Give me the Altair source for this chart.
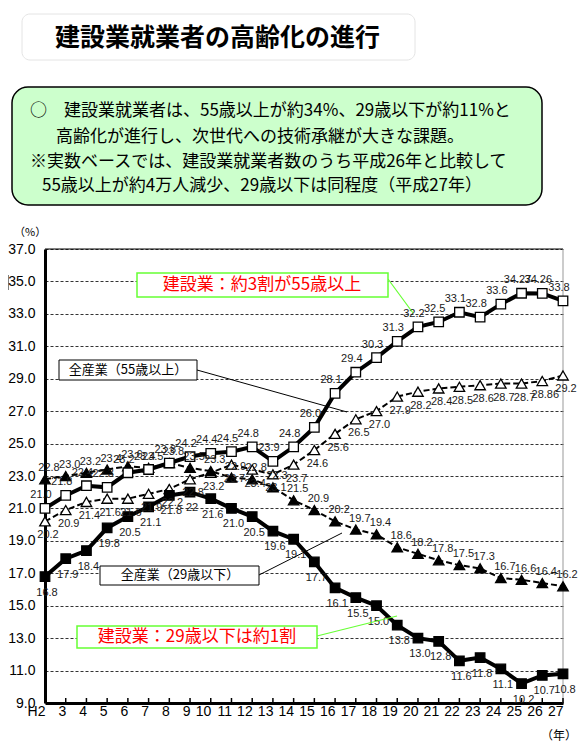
import altair as alt
import pandas as pd

# ---------------- data ----------------
years = ["H2", "3", "4", "5", "6", "7", "8", "9", "10", "11", "12", "13", "14",
         "15", "16", "17", "18", "19", "20", "21", "22", "23", "24", "25", "26", "27"]

# 建設業 55歳以上
c55 = [21.0, 21.8, 22.4, 22.3, 23.2, 23.4, 23.8, 24.2, 24.4, 24.5, 24.8, 23.9, 24.8,
       26.0, 28.1, 29.4, 30.3, 31.3, 32.2, 32.5, 33.1, 32.8, 33.6, 34.27, 34.26, 33.8]
# 全産業 55歳以上
a55 = [20.2, 20.9, 21.4, 21.6, 21.6, 21.9, 22.2, 22.8, 23.2, 23.7, 23.4, 23.1, 23.7,
       24.6, 25.6, 26.5, 27.0, 27.9, 28.2, 28.4, 28.5, 28.6, 28.7, 28.7, 28.86, 29.2]
# 全産業 29歳以下
a29 = [22.8, 23.0, 23.2, 23.4, 23.6, 23.5, 23.8, 23.5, 23.3, 22.9, 22.8, 22.3, 21.5,
       20.9, 20.2, 19.7, 19.4, 18.6, 18.2, 17.8, 17.5, 17.3, 16.7, 16.6, 16.4, 16.2]
# 建設業 29歳以下
c29 = [16.8, 17.9, 18.4, 19.8, 20.5, 21.1, 21.8, 22, 21.6, 21.0, 20.5, 19.6, 19.1,
       17.7, 16.1, 15.5, 15.0, 13.8, 13.0, 12.8, 11.6, 11.8, 11.1, 10.2, 10.7, 10.8]

y_ticks = [9, 11, 13, 15, 17, 19, 21, 23, 25, 27, 29, 31, 33, 35, 37]

title_text = "建設業就業者の高齢化の進行"
box_lines = [
    "○　建設業就業者は、55歳以上が約34%、29歳以下が約11%と",
    "高齢化が進行し、次世代への技術承継が大きな課題。",
    "※実数ベースでは、建設業就業者数のうち平成26年と比較して",
    "55歳以上が約4万人減少、29歳以下は同程度（平成27年）",
]

# ---------------- layout ----------------
W, H = 518, 454
PL, PT = 37, 241            # plot origin = page (45, 249)
JP = "Noto Sans CJK JP"
NUM = "Liberation Sans"


def px(x):
    return x - 45


def py(y):
    return y - 249


one = pd.DataFrame({"a": [0]})

X = alt.X("year:O", sort=years, scale=alt.Scale(type="point", padding=0),
          axis=alt.Axis(title=None, labelAngle=0, ticks=False, grid=False,
                        domainWidth=3, domainColor="black", labelFontSize=14,
                        labelPadding=8, labelColor="black", labelFont=NUM))
Y = alt.Y("value:Q", scale=alt.Scale(domain=[9, 37], nice=False, zero=False),
          axis=alt.Axis(title=None, values=y_ticks, format=".1f", ticks=False,
                        grid=True, gridDash=[3, 2], gridColor="#333333", gridWidth=1,
                        domainWidth=3, domainColor="black", labelFontSize=14,
                        labelPadding=10, labelColor="black", labelFont=NUM))


def frame(vals):
    return pd.DataFrame({"year": years, "value": vals,
                         "label": [str(v) for v in vals]})


def line_layer(vals, width, dashed):
    kw = dict(color="black", strokeWidth=width)
    if dashed:
        kw["strokeDash"] = [6, 3]
    return alt.Chart(frame(vals)).mark_line(**kw).encode(x=X, y=Y)


def point_layer(vals, shape, fill, size):
    return alt.Chart(frame(vals)).mark_point(
        shape=shape, size=size, filled=True, fill=fill, stroke="black",
        strokeWidth=1.3, opacity=1).encode(x=X, y=Y)


def label_layer(vals, dx, dy):
    return alt.Chart(frame(vals)).mark_text(
        dx=dx, dy=dy, fontSize=11, font=NUM, color="#1a1a1a").encode(
        x=X, y=Y, text="label:N")


def rect(x1, y1, x2, y2, fill, stroke, sw, radius=0):
    return alt.Chart(one).mark_rect(
        fill=fill, stroke=stroke, strokeWidth=sw, cornerRadius=radius).encode(
        x=alt.value(px(x1)), x2=alt.value(px(x2)),
        y=alt.value(py(y1)), y2=alt.value(py(y2)))


def text(s, x, y, size, color="black", weight="normal", align="left", font=JP):
    return alt.Chart(one).mark_text(
        text=s, align=align, baseline="middle", fontSize=size, font=font,
        fontWeight=weight, color=color).encode(
        x=alt.value(px(x)), y=alt.value(py(y)))


def seg(x1, y1, x2, y2, color, w=1):
    return alt.Chart(one).mark_rule(color=color, strokeWidth=w).encode(
        x=alt.value(px(x1)), y=alt.value(py(y1)),
        x2=alt.value(px(x2)), y2=alt.value(py(y2)))


# inward x ticks
ticks = alt.Chart(pd.DataFrame({"year": years})).mark_rule(
    color="black", strokeWidth=1.5).encode(
    x=alt.X("year:O", sort=years, scale=alt.Scale(type="point", padding=0)),
    y=alt.value(H), y2=alt.value(H - 5))

layers = [
    # frame top & right
    seg(45, 249, 563, 249, "black", 1),
    seg(563, 249, 563, 703, "#999999", 1),
    ticks,
    line_layer(a55, 2, True),
    line_layer(a29, 2, True),
    line_layer(c55, 4, False),
    line_layer(c29, 4, False),
    point_layer(a55, "triangle-up", "white", 110),
    point_layer(a29, "triangle-up", "black", 110),
    point_layer(c55, "square", "white", 90),
    point_layer(c29, "square", "black", 90),
    label_layer(c55, -4, -13),
    label_layer(a55, 3, 14),
    label_layer(a29, 4, -11),
    label_layer(c29, 2, 16),
    # leader lines
    seg(388, 279, 413, 313, "#66FF33", 1.2),
    seg(197, 370, 347, 412, "black", 1),
    seg(259, 575, 342, 533, "black", 1),
    seg(317, 636, 397, 616, "#66FF33", 1.2),
    # annotation boxes
    rect(137, 273, 388, 297, "white", "#66FF33", 1.5),
    text("建設業：約3割が55歳以上", 262, 285, 17, color="#FF0000", align="center"),
    rect(59, 360, 197, 380, "white", "black", 1),
    text("全産業（55歳以上）", 128, 370, 13, align="center"),
    rect(100, 566, 259, 585, "white", "black", 1),
    text("全産業（29歳以下）", 180, 575, 13, align="center"),
    rect(77, 626, 317, 648, "white", "#66FF33", 1.5),
    text("建設業：29歳以下は約1割", 197, 637, 17, color="#FF0000", align="center"),
    # unit labels
    text("（%）", 14, 233, 11),
    text("（年）", 577, 736, 12, align="right"),
    seg(8, 275, 8, 290, "black", 1),
    # header
    rect(22, 14, 415, 60, "white", "#e4e4e4", 1, 8),
    text(title_text, 55, 38, 25, weight="bold"),
    rect(12, 87, 542, 205, "#CCFFCC", "black", 1.5, 16),
    text(box_lines[0], 30, 111, 17),
    text(box_lines[1], 56, 137, 17),
    text(box_lines[2], 30, 162, 17),
    text(box_lines[3], 42, 186, 17),
]

chart = alt.layer(*layers).properties(
    width=W, height=H,
    autosize=alt.AutoSizeParams(type="none"),
    padding={"left": PL, "top": PT, "right": 17, "bottom": 45},
    background="white",
).configure_view(stroke=None)

chart.save("out.html", embed_options={"renderer": "svg", "actions": False})
